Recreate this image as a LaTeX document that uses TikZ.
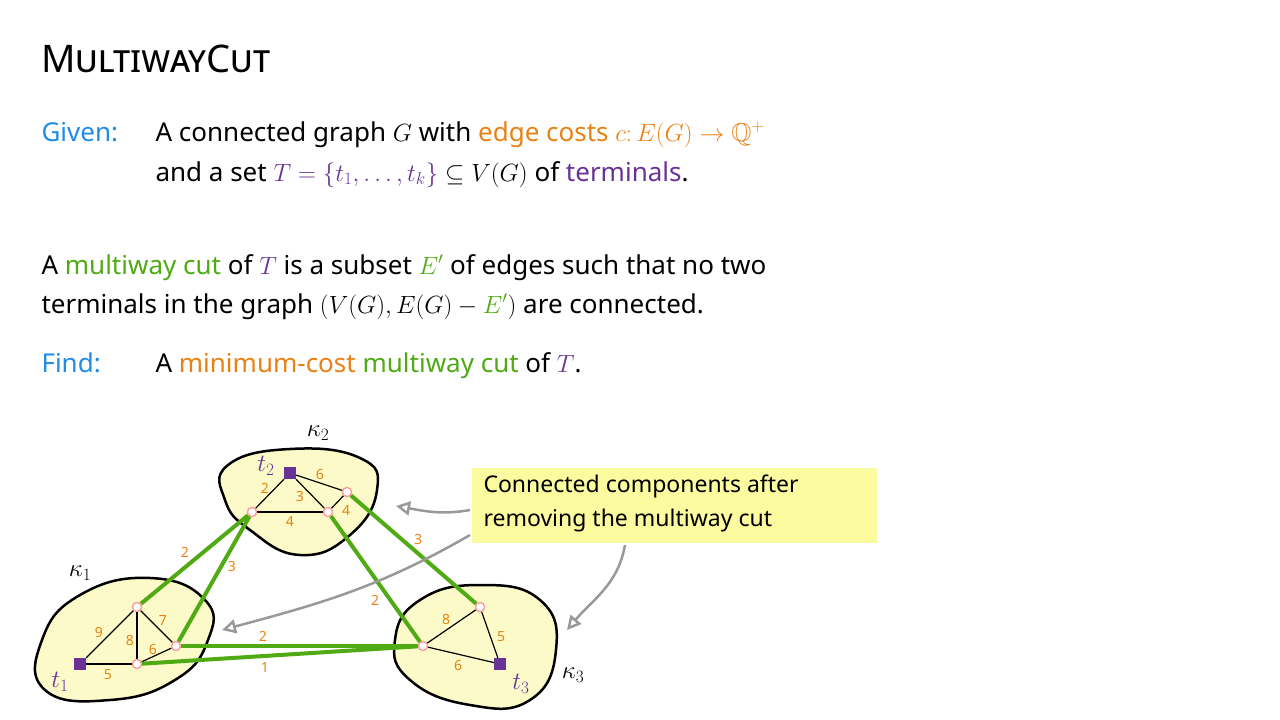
\documentclass[tikz,border=0pt]{standalone}
\usepackage{amssymb}
\usepackage{fontspec}
\setmainfont{Noto Sans}
\usetikzlibrary{arrows.meta}
\definecolor{cblue}{RGB}{33,140,230}
\definecolor{corange}{RGB}{232,130,20}
\definecolor{cgreen}{RGB}{80,170,20}
\definecolor{cpurple}{RGB}{105,50,150}
\definecolor{blob}{RGB}{252,250,200}
\tikzset{
 vtx/.style={circle,draw=pink!80!red,fill=white,line width=1.2pt,inner sep=0pt,minimum size=9pt},
 term/.style={rectangle,fill=cpurple,inner sep=0pt,minimum size=12pt},
 cut/.style={draw=cgreen,line width=4pt},
 ed/.style={draw=black,line width=1.2pt},
 wl/.style={text=corange,font=\fontsize{14}{14}\selectfont},
 blobs/.style={draw=black,line width=2.5pt,fill=blob},
 ptr/.style={draw=gray!80,line width=2.5pt,-{Triangle[open,length=14pt,width=14pt]}},
 bt/.style={anchor=base west,font=\fontsize{26}{32}\selectfont},
}
\begin{document}
\begin{tikzpicture}[x=1pt,y=-1pt]
\useasboundingbox (0,0) rectangle (1280,720);
\node[anchor=base west,font=\fontsize{38}{40}\selectfont] (title) at (38,72) {\textsc{MultiwayCut}};
\node[bt,text=cblue] (g1) at (38,141) {Given:};
\node[bt] (l1) at (152,141) {A connected graph $G$ with \textcolor{corange}{edge costs $c\colon E(G)\to\mathbb{Q}^+$}};
\node[bt] (l2) at (152,181) {and a set \textcolor{cpurple}{$T=\{t_1,\dots,t_k\}$} $\subseteq V(G)$ of \textcolor{cpurple}{\bfseries terminals}.};
\node[bt] (l3) at (38,274) {A \textcolor{cgreen}{multiway cut} of \textcolor{cpurple}{$T$} is a subset \textcolor{cgreen}{$E'$} of edges such that no two};
\node[bt] (l4) at (38,313) {terminals in the graph $(V(G),E(G)-\textcolor{cgreen}{E'})$ are connected.};
\node[bt,text=cblue] (f1) at (38,372) {Find:};
\node[bt] (l5) at (152,372) {A \textcolor{corange}{minimum-cost} \textcolor{cgreen}{multiway cut} of \textcolor{cpurple}{$T$}.};
% blobs
\path[blobs] plot[smooth cycle,tension=0.8] coordinates {(45,690) (42,640) (80,595) (150,578) (205,600) (208,640) (175,680) (110,700)};
\path[blobs] plot[smooth cycle,tension=0.8] coordinates {(228,465) (290,449) (360,458) (377,490) (350,535) (300,555) (250,530) (225,500)};
\path[blobs] plot[smooth cycle,tension=0.8] coordinates {(395,640) (420,600) (480,585) (540,600) (556,650) (530,700) (470,705) (410,680)};
% nodes
\node[term] (t1) at (80,664) {};
\node[vtx] (a) at (137,607) {};
\node[vtx] (b) at (137,664) {};
\node[vtx] (c) at (176,646) {};
\node[term] (t2) at (290,473) {};
\node[vtx] (d) at (252,512) {};
\node[vtx] (e) at (328,512) {};
\node[vtx] (f) at (347,492) {};
\node[vtx] (g) at (423,646) {};
\node[vtx] (h) at (480,607) {};
\node[term] (t3) at (500,664) {};
% black edges
\draw[ed] (t1)--(a); \draw[ed] (a)--(b); \draw[ed] (a)--(c); \draw[ed] (b)--(c); \draw[ed] (t1)--(b);
\draw[ed] (t2)--(d); \draw[ed] (t2)--(e); \draw[ed] (d)--(e); \draw[ed] (t2)--(f); \draw[ed] (e)--(f);
\draw[ed] (g)--(h); \draw[ed] (h)--(t3); \draw[ed] (g)--(t3);
% cut edges
\draw[cut] (a)--(d); \draw[cut] (c)--(d); \draw[cut] (e)--(g); \draw[cut] (f)--(h); \draw[cut] (c)--(g); \draw[cut] (b)--(g);
\foreach \n in {a,b,c,d,e,f,g,h} \node[vtx] at (\n) {};
% weights
\node[wl] (w1) at (185,552) {2}; \node[wl] (w2) at (232,566) {3};
\node[wl] (w3) at (375,600) {2}; \node[wl] (w4) at (418,539) {3};
\node[wl] (w5) at (263,636) {2}; \node[wl] (w6) at (265,667) {1};
\node[wl] (w7) at (99,632) {9}; \node[wl] (w8) at (130,640) {8}; \node[wl] (w9) at (163,620) {7};
\node[wl] (w10) at (153,649) {6}; \node[wl] (w11) at (108,675) {5};
\node[wl] (w12) at (320,474) {6}; \node[wl] (w13) at (265,488) {2}; \node[wl] (w14) at (300,496) {3};
\node[wl] (w15) at (290,521) {4}; \node[wl] (w16) at (346,510) {4};
\node[wl] (w17) at (446,619) {8}; \node[wl] (w18) at (501,637) {5}; \node[wl] (w19) at (458,665) {6};
% labels
\node[font=\fontsize{24}{24}\selectfont] (k1) at (80,573) {$\kappa_1$};
\node[font=\fontsize{24}{24}\selectfont] (k2) at (318,433) {$\kappa_2$};
\node[font=\fontsize{24}{24}\selectfont] (k3) at (573,675) {$\kappa_3$};
\node[font=\fontsize{24}{24}\selectfont,text=cpurple] (lt1) at (60,682) {$t_1$};
\node[font=\fontsize{24}{24}\selectfont,text=cpurple] (lt2) at (266,466) {$t_2$};
\node[font=\fontsize{24}{24}\selectfont,text=cpurple] (lt3) at (521,684) {$t_3$};
% callout
\node[fill=blob!80!yellow,minimum width=405pt,minimum height=75pt,anchor=north west,inner sep=0pt] (box) at (472,468) {};
\node[anchor=north west,align=left,font=\fontsize{23}{34}\selectfont] (boxt) at (480,471) {Connected components after\\removing the multiway cut};
\coordinate (s1) at (470,510); \coordinate (s2) at (470,535); \coordinate (s3) at (625,545);
\coordinate (e1) at (396,506); \coordinate (e2) at (222,630); \coordinate (e3) at (567,630);
\draw[ptr] (s1) to[out=190,in=-10] (e1);
\draw[ptr] (s2) to[out=210,in=15] (e2);
\draw[ptr] (s3) to[out=-100,in=50] (e3);
\end{tikzpicture}
\end{document}
